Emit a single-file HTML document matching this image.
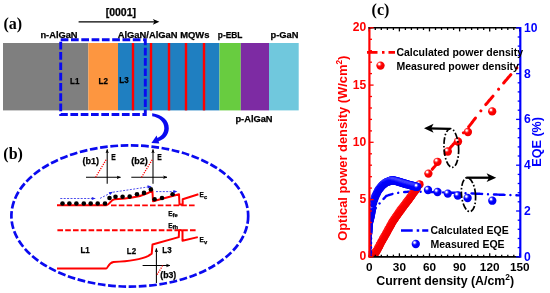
<!DOCTYPE html>
<html><head><meta charset="utf-8"><title>Figure</title>
<style>html,body{margin:0;padding:0;background:#fff}svg{display:block;filter:blur(0.45px)}text{font-family:"Liberation Sans",sans-serif;font-weight:bold}.ser{font-family:"Liberation Serif",serif}.cb{stroke:#000;stroke-width:0.25px}</style></head><body>
<svg width="550" height="293" viewBox="0 0 550 293">
<defs>
<radialGradient id="rb" cx="0.35" cy="0.32" r="0.65"><stop offset="0" stop-color="#fff"/><stop offset="0.12" stop-color="#fff"/><stop offset="0.3" stop-color="#ff5050"/><stop offset="0.5" stop-color="#ff0000"/><stop offset="1" stop-color="#f00000"/></radialGradient>
<radialGradient id="bb" cx="0.35" cy="0.32" r="0.65"><stop offset="0" stop-color="#fff"/><stop offset="0.12" stop-color="#fff"/><stop offset="0.3" stop-color="#5050ff"/><stop offset="0.5" stop-color="#0000ff"/><stop offset="1" stop-color="#0000f0"/></radialGradient>
<marker id="ah" viewBox="0 0 10 10" refX="9" refY="5" markerWidth="4.2" markerHeight="4.2" orient="auto-start-reverse"><path d="M0,1 L10,5 L0,9 L2.5,5 z" fill="#000"/></marker>
</defs>
<rect width="550" height="293" fill="#fff"/>
<rect x="3" y="43" width="85.3" height="67.4" fill="#7f7f7f"/>
<rect x="88.3" y="43" width="29.7" height="67.4" fill="#fd9640"/>
<rect x="118" y="43" width="101.5" height="67.4" fill="#1f7fc1"/>
<rect x="219.5" y="43" width="21.3" height="67.4" fill="#68cc40"/>
<rect x="240.8" y="43" width="28.2" height="67.4" fill="#7d2ba3"/>
<rect x="269" y="43" width="29.7" height="67.4" fill="#70c8dd"/>
<rect x="131.8" y="43" width="2.4" height="67.4" fill="#ff0000"/>
<rect x="149.8" y="43" width="2.4" height="67.4" fill="#ff0000"/>
<rect x="167.8" y="43" width="2.4" height="67.4" fill="#ff0000"/>
<rect x="184.8" y="43" width="2.4" height="67.4" fill="#ff0000"/>
<rect x="202.8" y="43" width="2.4" height="67.4" fill="#ff0000"/>
<rect x="60.7" y="39.7" width="84.6" height="74.8" fill="none" stroke="#0a0af0" stroke-width="2.9" stroke-dasharray="7.7 2.6"/>
<text x="3.5" y="29.2" font-size="16" fill="#000" class="ser" >(a)</text>
<text x="105.7" y="16" font-size="10.5" fill="#000"  class="cb">[0001]</text>
<line x1="78.6" y1="21.8" x2="155" y2="21.8" stroke="#000" stroke-width="1.35"/>
<path d="M159.4,21.8 L152.8,18.9 L154.5,21.8 L152.8,24.7 z" fill="#000"/>
<text x="40.4" y="37.6" font-size="9.3" fill="#000"  class="cb">n-AlGaN</text>
<text x="117.7" y="37.6" font-size="9.4" fill="#000"  class="cb">AlGaN/AlGaN MQWs</text>
<text x="217.8" y="37.6" font-size="9.3" fill="#000"  class="cb" textLength="24.6" lengthAdjust="spacingAndGlyphs">p-EBL</text>
<text x="270.5" y="37.6" font-size="9.3" fill="#000"  class="cb">p-GaN</text>
<text x="235.4" y="122.2" font-size="9.3" fill="#000"  class="cb">p-AlGaN</text>
<text x="70" y="83.8" font-size="9.6" fill="#000"  class="cb" textLength="9.4" lengthAdjust="spacingAndGlyphs">L1</text>
<text x="98.6" y="83.8" font-size="9.6" fill="#000"  class="cb" textLength="9.4" lengthAdjust="spacingAndGlyphs">L2</text>
<text x="119.3" y="83.2" font-size="9.6" fill="#000"  class="cb" textLength="9.4" lengthAdjust="spacingAndGlyphs">L3</text>
<path d="M152.2,113.2 C162,114.5 169,120 168.8,128.5 C168.6,135.5 163.5,139.8 158.6,141.2 L159.3,143.6 L151.4,143 L156.6,135.6 L157.4,138 C161,136.6 164.2,133.2 164.3,128.3 C164.4,121.5 159,117.5 152.2,116.2 z" fill="#0a0af0"/>
<text x="3.3" y="159.4" font-size="16" fill="#000" class="ser" >(b)</text>
<ellipse cx="129.8" cy="216" rx="118.4" ry="70.6" fill="none" stroke="#0a0af0" stroke-width="2.7" stroke-dasharray="7.7 2.6"/>
<line x1="107.2" y1="183.7" x2="107.2" y2="149.5" stroke="#000" stroke-width="1.05" marker-end="url(#ah)"/>
<line x1="86" y1="177.3" x2="120.5" y2="177.3" stroke="#000" stroke-width="1.05" marker-end="url(#ah)"/>
<line x1="153" y1="183.7" x2="153" y2="149.5" stroke="#000" stroke-width="1.05" marker-end="url(#ah)"/>
<line x1="131.3" y1="177.3" x2="167" y2="177.3" stroke="#000" stroke-width="1.05" marker-end="url(#ah)"/>
<line x1="156.4" y1="283" x2="156.4" y2="248.5" stroke="#000" stroke-width="1.05" marker-end="url(#ah)"/>
<line x1="142.6" y1="265.5" x2="170" y2="265.5" stroke="#000" stroke-width="1.05" marker-end="url(#ah)"/>
<line x1="95.6" y1="177.3" x2="106.3" y2="159.4" stroke="#ff0000" stroke-width="1.3" stroke-dasharray="1.2 1.2"/>
<line x1="141.5" y1="177.3" x2="152.5" y2="159.4" stroke="#ff0000" stroke-width="1.3" stroke-dasharray="1.2 1.2"/>
<line x1="162.7" y1="265.5" x2="156.4" y2="275.7" stroke="#ff0000" stroke-width="1.3" stroke-dasharray="1.2 1.2"/>
<text x="82.5" y="163.6" font-size="9" fill="#000"  class="cb">(b1)</text>
<text x="131.3" y="163.6" font-size="9" fill="#000"  class="cb">(b2)</text>
<text x="160.3" y="278.2" font-size="8.7" fill="#000"  class="cb">(b3)</text>
<text x="111.2" y="160.2" font-size="8.6" fill="#000"  class="cb" textLength="4.5" lengthAdjust="spacingAndGlyphs">E</text>
<text x="157.2" y="160.2" font-size="8.6" fill="#000"  class="cb" textLength="4.5" lengthAdjust="spacingAndGlyphs">E</text>
<path d="M57,205.3 L106.5,205.3 C109,205.3 111,199.6 114.6,199.2 L125,198.6 C135,197.6 146,195 152.4,190.7 L153,201.2 L179,194.3 L179.5,204.6 L182.7,204.6 L182.7,199.3 L198.4,194.3" fill="none" stroke="#ff0000" stroke-width="2" stroke-linejoin="round"/>
<line x1="111" y1="205.4" x2="196.5" y2="205.4" stroke="#ff0000" stroke-width="1.9" stroke-dasharray="5.6 2.2"/>
<line x1="57.4" y1="230.3" x2="197.2" y2="230.3" stroke="#ff0000" stroke-width="1.9" stroke-dasharray="5.6 2.2"/>
<path d="M57,268.4 L106.2,268.4 C108,268.4 108,263 113.5,262 C125,261.5 140,260 148.4,255.9 L151.7,253.7 L152.5,244.5 L178.8,237.1 L179,231 C180,229.5 181.5,229.5 182.5,231.5 L182.5,240.8 L197.8,237.1" fill="none" stroke="#ff0000" stroke-width="2" stroke-linejoin="round"/>
<circle cx="62.5" cy="203.5" r="2.3" fill="#000"/>
<circle cx="69.4" cy="203.5" r="2.3" fill="#000"/>
<circle cx="76.4" cy="203.5" r="2.3" fill="#000"/>
<circle cx="83.8" cy="203.5" r="2.3" fill="#000"/>
<circle cx="90.7" cy="203.5" r="2.3" fill="#000"/>
<circle cx="97.7" cy="203.5" r="2.3" fill="#000"/>
<circle cx="105" cy="203.5" r="2.3" fill="#000"/>
<circle cx="109.5" cy="198" r="2.3" fill="#000"/>
<circle cx="115.5" cy="196.8" r="2.3" fill="#000"/>
<circle cx="122.6" cy="196.8" r="2.3" fill="#000"/>
<circle cx="129.7" cy="196.6" r="2.3" fill="#000"/>
<circle cx="137" cy="194.3" r="2.3" fill="#000"/>
<circle cx="144" cy="192.9" r="2.3" fill="#000"/>
<circle cx="150.9" cy="189.4" r="2.3" fill="#000"/>
<circle cx="154.6" cy="199.3" r="2.3" fill="#000"/>
<circle cx="162" cy="198" r="2.3" fill="#000"/>
<circle cx="172.6" cy="194.3" r="2.3" fill="#000"/>
<path d="M60.3,198.5 L93,198.5" fill="none" stroke="#2020e8" stroke-width="0.8" stroke-dasharray="2 1.4"/>
<path d="M0,0 L-4,-1.6 L-4,1.6 z" fill="#2020e8" transform="translate(95.8,198.5) rotate(0)"/>
<path d="M100,198.4 L111,192.8" fill="none" stroke="#2020e8" stroke-width="0.8" stroke-dasharray="2 1.4"/>
<path d="M0,0 L-4,-1.6 L-4,1.6 z" fill="#2020e8" transform="translate(113,191.8) rotate(-27)"/>
<path d="M113,192.2 L149,186.8" fill="none" stroke="#2020e8" stroke-width="0.8" stroke-dasharray="2 1.4"/>
<path d="M0,0 L-4,-1.6 L-4,1.6 z" fill="#2020e8" transform="translate(151.6,186.4) rotate(-8)"/>
<path d="M156,191.6 L175,191.6" fill="none" stroke="#2020e8" stroke-width="0.8" stroke-dasharray="2 1.4"/>
<path d="M0,0 L-4,-1.6 L-4,1.6 z" fill="#2020e8" transform="translate(177.4,191.6) rotate(0)"/>
<text x="199.6" y="197.2" font-size="8" fill="#000" class="cb"><tspan textLength="4.3" lengthAdjust="spacingAndGlyphs">E</tspan><tspan font-size="5.8" dy="1.6">c</tspan></text>
<text x="168.2" y="215.6" font-size="8" fill="#000" class="cb"><tspan textLength="4.3" lengthAdjust="spacingAndGlyphs">E</tspan><tspan font-size="5.8" dy="1.6">fe</tspan></text>
<text x="168.2" y="227.8" font-size="8" fill="#000" class="cb"><tspan textLength="4.3" lengthAdjust="spacingAndGlyphs">E</tspan><tspan font-size="5.8" dy="1.6">fh</tspan></text>
<text x="199.6" y="242" font-size="8" fill="#000" class="cb"><tspan textLength="4.3" lengthAdjust="spacingAndGlyphs">E</tspan><tspan font-size="5.8" dy="1.6">v</tspan></text>
<text x="80.5" y="252.9" font-size="9.2" fill="#000"  class="cb" textLength="9.3" lengthAdjust="spacingAndGlyphs">L1</text>
<text x="126.8" y="253.6" font-size="9.2" fill="#000"  class="cb" textLength="9.3" lengthAdjust="spacingAndGlyphs">L2</text>
<text x="162.3" y="253.3" font-size="9.2" fill="#000"  class="cb" textLength="9.3" lengthAdjust="spacingAndGlyphs">L3</text>
<text x="371.6" y="14.8" font-size="16" fill="#000" class="ser" >(c)</text>
<path d="M369.8,256.0 L370.1,255.5 L370.5,254.9 L370.8,254.4 L371.1,253.9 L371.5,253.3 L371.8,252.8 L372.1,252.3 L372.5,251.7 L372.8,251.2 L373.1,250.7 L373.5,250.2 L373.8,249.6 L374.1,249.1 L374.5,248.6 L374.8,248.0 L375.1,247.5 L375.5,247.0 L375.8,246.4 L376.1,245.9 L376.5,245.4 L376.8,244.8 L377.1,244.3 L377.5,243.8 L377.8,243.2 L378.1,242.7 L378.4,242.2 L378.8,241.7 L379.1,241.1 L379.4,240.6 L379.8,240.1 L380.1,239.6 L380.4,239.1 L380.8,238.5 L381.1,238.0 L381.4,237.5 L381.8,237.0 L382.1,236.5 L382.4,236.0 L382.8,235.5 L383.1,235.0 L383.4,234.4 L383.8,233.9 L384.1,233.4 L384.4,232.9 L384.8,232.4 L385.1,231.9 L385.4,231.4 L385.8,230.9 L386.1,230.3 L386.4,229.8 L386.8,229.3 L387.1,228.8 L387.4,228.3 L387.8,227.8 L388.1,227.3 L388.4,226.8 L388.8,226.3 L389.1,225.7 L389.4,225.2 L389.8,224.8 L390.1,224.3 L390.4,223.8 L390.8,223.3 L391.1,222.9 L391.4,222.4 L391.8,221.9 L392.1,221.4 L392.4,221.0 L392.7,220.5 L393.1,220.0 L393.4,219.5 L393.7,219.1 L394.1,218.6 L394.4,218.1 L394.7,217.6 L395.1,217.2 L395.4,216.7 L395.7,216.2 L396.1,215.7 L396.4,215.3 L396.7,214.8 L397.1,214.3 L397.4,213.8 L397.7,213.4 L398.1,212.9 L398.4,212.4 L398.7,211.9 L399.1,211.5 L399.4,211.0 L399.9,210.3 L400.9,209.0 L401.9,207.7 L402.9,206.4 L403.9,205.1 L404.9,203.7 L405.9,202.4 L407.0,201.1 L408.0,199.8 L409.0,198.4 L410.0,197.1 L411.0,195.9 L412.0,194.6 L413.0,193.4 L414.0,192.1 L415.0,190.8 L416.0,189.6 L417.0,188.3 L418.0,187.0 L419.0,185.8 L420.1,184.5 L421.1,183.2 L422.1,182.0 L423.1,180.7 L424.1,179.4 L425.1,178.2 L426.1,176.9 L427.1,175.6 L428.1,174.4 L429.1,173.1 L430.1,171.9 L431.1,170.7 L432.1,169.5 L433.1,168.3 L434.2,167.1 L435.2,165.9 L436.2,164.6 L437.2,163.4 L438.2,162.2 L439.2,161.0 L440.2,159.8 L441.2,158.6 L442.2,157.4 L443.2,156.2 L444.2,155.0 L445.2,153.8 L446.2,152.6 L447.3,151.4 L448.3,150.2 L449.3,149.0 L450.3,147.8 L451.3,146.6 L452.3,145.5 L453.3,144.3 L454.3,143.2 L455.3,142.0 L456.3,140.9 L457.3,139.7 L458.3,138.6 L459.3,137.4 L460.4,136.3 L461.4,135.1 L462.4,134.0 L463.4,132.8 L464.4,131.7 L465.4,130.5 L466.4,129.4 L467.4,128.2 L468.4,127.1 L469.4,125.9 L470.4,124.6 L471.4,123.3 L472.4,122.0 L473.4,120.6 L474.5,119.3 L475.5,117.9 L476.5,116.6 L477.5,115.3 L478.5,114.0 L479.5,112.7 L480.5,111.4 L481.5,110.0 L482.5,108.7 L483.5,107.4 L484.5,106.1 L485.5,104.9 L486.5,103.7 L487.6,102.5 L488.6,101.3 L489.6,100.1 L490.6,99.0 L491.6,97.8 L492.6,96.6 L493.6,95.4 L494.6,94.2 L495.6,93.0 L496.6,91.7 L497.6,90.5 L498.6,89.2 L499.6,88.0 L500.7,86.7 L501.7,85.5 L502.7,84.2 L503.7,83.0 L504.7,81.8 L505.7,80.6 L506.7,79.5 L507.7,78.3 L508.7,77.1 L509.7,76.0 L510.7,74.8 L511.7,73.6 L512.7,72.5 L513.7,71.3 L514.8,70.2 L515.8,69.0 L516.8,67.9 L517.8,66.7 L518.8,65.6 L519.8,64.4" fill="none" stroke="#ff0000" stroke-width="3" stroke-linecap="round" stroke-dasharray="11 9 0.01 8" stroke-dashoffset="4.9"/>
<path d="M369.8,252.2 L370.1,244.6 L370.5,237.0 L370.8,229.4 L371.1,226.3 L371.5,223.3 L371.8,220.3 L372.1,218.0 L372.5,215.7 L372.8,213.4 L373.1,211.7 L373.5,211.3 L373.8,210.8 L374.1,210.3 L374.5,209.8 L374.8,209.3 L375.1,208.9 L375.5,208.4 L375.8,207.9 L376.1,207.5 L376.5,207.1 L376.8,206.7 L377.1,206.3 L377.5,205.9 L377.8,205.5 L378.1,205.1 L378.4,204.7 L378.8,204.3 L379.1,204.0 L379.4,203.6 L379.8,203.2 L380.1,202.8 L380.4,202.4 L380.8,202.0 L381.1,201.7 L381.4,201.3 L381.8,200.9 L382.1,200.6 L382.4,200.2 L382.8,199.8 L383.1,199.5 L383.4,199.1 L383.8,198.7 L384.1,198.4 L384.4,198.0 L384.8,197.6 L385.1,197.3 L385.4,196.9 L385.8,196.5 L386.1,196.2 L386.4,195.9 L386.8,195.8 L387.1,195.7 L387.4,195.5 L387.8,195.4 L388.1,195.3 L388.4,195.2 L388.8,195.1 L389.1,195.0 L389.4,194.9 L389.8,194.8 L390.1,194.7 L390.4,194.6 L390.8,194.5 L391.1,194.4 L391.4,194.3 L391.8,194.2 L392.1,194.1 L392.4,194.0 L392.7,193.9 L393.1,193.8 L393.4,193.7 L393.7,193.6 L394.1,193.5 L394.4,193.4 L394.7,193.3 L395.1,193.3 L395.4,193.2 L395.7,193.1 L396.1,193.1 L396.4,193.0 L396.7,193.0 L397.1,192.9 L397.4,192.9 L397.7,192.8 L398.1,192.8 L398.4,192.7 L398.7,192.7 L399.1,192.6 L399.4,192.5 L399.9,192.5 L400.9,192.3 L401.9,192.2 L402.9,192.1 L403.9,192.1 L404.9,192.0 L405.9,192.0 L407.0,191.9 L408.0,191.8 L409.0,191.8 L410.0,191.8 L411.0,191.8 L412.0,191.8 L413.0,191.8 L414.0,191.8 L415.0,191.8 L416.0,191.8 L417.0,191.8 L418.0,191.8 L419.0,191.8 L420.1,191.8 L421.1,191.8 L422.1,191.8 L423.1,191.8 L424.1,191.9 L425.1,191.9 L426.1,191.9 L427.1,191.9 L428.1,192.0 L429.1,192.0 L430.1,192.0 L431.1,192.0 L432.1,192.1 L433.1,192.1 L434.2,192.1 L435.2,192.1 L436.2,192.1 L437.2,192.2 L438.2,192.2 L439.2,192.2 L440.2,192.2 L441.2,192.3 L442.2,192.3 L443.2,192.4 L444.2,192.4 L445.2,192.4 L446.2,192.5 L447.3,192.5 L448.3,192.6 L449.3,192.6 L450.3,192.6 L451.3,192.7 L452.3,192.7 L453.3,192.7 L454.3,192.8 L455.3,192.8 L456.3,192.9 L457.3,192.9 L458.3,192.9 L459.3,193.0 L460.4,193.0 L461.4,193.1 L462.4,193.1 L463.4,193.1 L464.4,193.2 L465.4,193.2 L466.4,193.2 L467.4,193.3 L468.4,193.3 L469.4,193.4 L470.4,193.4 L471.4,193.4 L472.4,193.5 L473.4,193.5 L474.5,193.6 L475.5,193.6 L476.5,193.7 L477.5,193.7 L478.5,193.8 L479.5,193.8 L480.5,193.9 L481.5,193.9 L482.5,194.0 L483.5,194.0 L484.5,194.0 L485.5,194.1 L486.5,194.1 L487.6,194.2 L488.6,194.2 L489.6,194.3 L490.6,194.3 L491.6,194.4 L492.6,194.4 L493.6,194.4 L494.6,194.5 L495.6,194.5 L496.6,194.5 L497.6,194.6 L498.6,194.6 L499.6,194.7 L500.7,194.7 L501.7,194.7 L502.7,194.8 L503.7,194.8 L504.7,194.9 L505.7,194.9 L506.7,194.9 L507.7,195.0 L508.7,195.0 L509.7,195.0 L510.7,195.1 L511.7,195.1 L512.7,195.2 L513.7,195.2 L514.8,195.2 L515.8,195.3 L516.8,195.3 L517.8,195.4 L518.8,195.4 L519.8,195.4" fill="none" stroke="#0000ff" stroke-width="2.4" stroke-linecap="round" stroke-dasharray="10.6 5.9 0.01 5.99" stroke-dashoffset="10.3"/>
<clipPath id="pc"><rect x="369.4" y="27.8" width="150.9" height="229.1"/></clipPath><g clip-path="url(#pc)">
<circle cx="369.3" cy="261.4" r="4.15" fill="url(#rb)"/>
<circle cx="370.1" cy="260.2" r="4.15" fill="url(#rb)"/>
<circle cx="370.9" cy="259.1" r="4.15" fill="url(#rb)"/>
<circle cx="371.7" cy="257.9" r="4.15" fill="url(#rb)"/>
<circle cx="372.5" cy="256.8" r="4.15" fill="url(#rb)"/>
<circle cx="373.3" cy="255.7" r="4.15" fill="url(#rb)"/>
<circle cx="374.1" cy="254.5" r="4.15" fill="url(#rb)"/>
<circle cx="374.9" cy="253.4" r="4.15" fill="url(#rb)"/>
<circle cx="375.7" cy="252.3" r="4.15" fill="url(#rb)"/>
<circle cx="376.5" cy="251.2" r="4.15" fill="url(#rb)"/>
<circle cx="377.3" cy="249.7" r="4.15" fill="url(#rb)"/>
<circle cx="378.1" cy="248.2" r="4.15" fill="url(#rb)"/>
<circle cx="378.9" cy="246.7" r="4.15" fill="url(#rb)"/>
<circle cx="379.7" cy="245.2" r="4.15" fill="url(#rb)"/>
<circle cx="380.5" cy="243.6" r="4.15" fill="url(#rb)"/>
<circle cx="381.3" cy="242.1" r="4.15" fill="url(#rb)"/>
<circle cx="382.1" cy="240.6" r="4.15" fill="url(#rb)"/>
<circle cx="382.9" cy="239.2" r="4.15" fill="url(#rb)"/>
<circle cx="383.7" cy="237.7" r="4.15" fill="url(#rb)"/>
<circle cx="384.6" cy="236.3" r="4.15" fill="url(#rb)"/>
<circle cx="385.4" cy="234.9" r="4.15" fill="url(#rb)"/>
<circle cx="386.2" cy="233.4" r="4.15" fill="url(#rb)"/>
<circle cx="387.0" cy="232.0" r="4.15" fill="url(#rb)"/>
<circle cx="387.8" cy="230.5" r="4.15" fill="url(#rb)"/>
<circle cx="388.6" cy="229.1" r="4.15" fill="url(#rb)"/>
<circle cx="389.4" cy="227.6" r="4.15" fill="url(#rb)"/>
<circle cx="390.2" cy="226.2" r="4.15" fill="url(#rb)"/>
<circle cx="391.0" cy="224.7" r="4.15" fill="url(#rb)"/>
<circle cx="391.8" cy="223.3" r="4.15" fill="url(#rb)"/>
<circle cx="392.6" cy="221.8" r="4.15" fill="url(#rb)"/>
<circle cx="393.4" cy="220.6" r="4.15" fill="url(#rb)"/>
<circle cx="394.2" cy="219.4" r="4.15" fill="url(#rb)"/>
<circle cx="395.0" cy="218.3" r="4.15" fill="url(#rb)"/>
<circle cx="395.8" cy="217.1" r="4.15" fill="url(#rb)"/>
<circle cx="396.6" cy="215.9" r="4.15" fill="url(#rb)"/>
<circle cx="397.4" cy="214.8" r="4.15" fill="url(#rb)"/>
<circle cx="398.2" cy="213.6" r="4.15" fill="url(#rb)"/>
<circle cx="399.0" cy="212.5" r="4.15" fill="url(#rb)"/>
<circle cx="399.8" cy="211.3" r="4.15" fill="url(#rb)"/>
<circle cx="400.6" cy="210.2" r="4.15" fill="url(#rb)"/>
<circle cx="401.4" cy="209.2" r="4.15" fill="url(#rb)"/>
<circle cx="402.2" cy="208.1" r="4.15" fill="url(#rb)"/>
<circle cx="403.0" cy="207.1" r="4.15" fill="url(#rb)"/>
<circle cx="403.8" cy="206.0" r="4.15" fill="url(#rb)"/>
<circle cx="404.6" cy="204.9" r="4.15" fill="url(#rb)"/>
<circle cx="405.4" cy="203.9" r="4.15" fill="url(#rb)"/>
<circle cx="406.2" cy="202.8" r="4.15" fill="url(#rb)"/>
<circle cx="407.0" cy="201.8" r="4.15" fill="url(#rb)"/>
<circle cx="407.8" cy="200.7" r="4.15" fill="url(#rb)"/>
<circle cx="408.6" cy="199.7" r="4.15" fill="url(#rb)"/>
<circle cx="409.4" cy="198.6" r="4.15" fill="url(#rb)"/>
<circle cx="410.2" cy="197.4" r="4.15" fill="url(#rb)"/>
<circle cx="411.0" cy="196.3" r="4.15" fill="url(#rb)"/>
<circle cx="411.8" cy="195.2" r="4.15" fill="url(#rb)"/>
<circle cx="412.6" cy="194.1" r="4.15" fill="url(#rb)"/>
<circle cx="413.4" cy="192.9" r="4.15" fill="url(#rb)"/>
<circle cx="414.2" cy="191.8" r="4.15" fill="url(#rb)"/>
<circle cx="415.1" cy="190.7" r="4.15" fill="url(#rb)"/>
<circle cx="415.9" cy="189.5" r="4.15" fill="url(#rb)"/>
<circle cx="416.7" cy="188.4" r="4.15" fill="url(#rb)"/>
<circle cx="419.5" cy="184.4" r="4.15" fill="url(#rb)"/>
<circle cx="428.4" cy="173.6" r="4.15" fill="url(#rb)"/>
<circle cx="437.5" cy="161.8" r="4.15" fill="url(#rb)"/>
<circle cx="447.8" cy="151.5" r="4.15" fill="url(#rb)"/>
<circle cx="458.0" cy="141.5" r="4.15" fill="url(#rb)"/>
<circle cx="467.9" cy="132.0" r="4.15" fill="url(#rb)"/>
<circle cx="492.2" cy="111.4" r="4.15" fill="url(#rb)"/>
<circle cx="368.0" cy="256.8" r="4.15" fill="url(#bb)"/>
<circle cx="368.0" cy="252.2" r="4.15" fill="url(#bb)"/>
<circle cx="368.0" cy="247.6" r="4.15" fill="url(#bb)"/>
<circle cx="368.1" cy="243.1" r="4.15" fill="url(#bb)"/>
<circle cx="368.1" cy="238.5" r="4.15" fill="url(#bb)"/>
<circle cx="368.1" cy="233.9" r="4.15" fill="url(#bb)"/>
<circle cx="368.1" cy="233.4" r="4.15" fill="url(#bb)"/>
<circle cx="368.1" cy="233.0" r="4.15" fill="url(#bb)"/>
<circle cx="368.2" cy="232.5" r="4.15" fill="url(#bb)"/>
<circle cx="368.2" cy="232.1" r="4.15" fill="url(#bb)"/>
<circle cx="368.2" cy="231.6" r="4.15" fill="url(#bb)"/>
<circle cx="368.2" cy="231.2" r="4.15" fill="url(#bb)"/>
<circle cx="368.2" cy="230.7" r="4.15" fill="url(#bb)"/>
<circle cx="368.3" cy="230.2" r="4.15" fill="url(#bb)"/>
<circle cx="368.3" cy="229.8" r="4.15" fill="url(#bb)"/>
<circle cx="368.3" cy="229.3" r="4.15" fill="url(#bb)"/>
<circle cx="368.3" cy="228.9" r="4.15" fill="url(#bb)"/>
<circle cx="368.3" cy="228.4" r="4.15" fill="url(#bb)"/>
<circle cx="368.4" cy="227.9" r="4.15" fill="url(#bb)"/>
<circle cx="368.4" cy="227.5" r="4.15" fill="url(#bb)"/>
<circle cx="368.4" cy="227.0" r="4.15" fill="url(#bb)"/>
<circle cx="368.4" cy="226.6" r="4.15" fill="url(#bb)"/>
<circle cx="368.4" cy="226.1" r="4.15" fill="url(#bb)"/>
<circle cx="368.5" cy="225.7" r="4.15" fill="url(#bb)"/>
<circle cx="368.5" cy="225.2" r="4.15" fill="url(#bb)"/>
<circle cx="368.5" cy="224.7" r="4.15" fill="url(#bb)"/>
<circle cx="368.7" cy="224.0" r="4.15" fill="url(#bb)"/>
<circle cx="368.9" cy="223.2" r="4.15" fill="url(#bb)"/>
<circle cx="369.1" cy="222.4" r="4.15" fill="url(#bb)"/>
<circle cx="369.3" cy="221.6" r="4.15" fill="url(#bb)"/>
<circle cx="369.5" cy="220.8" r="4.15" fill="url(#bb)"/>
<circle cx="369.7" cy="220.0" r="4.15" fill="url(#bb)"/>
<circle cx="369.9" cy="219.2" r="4.15" fill="url(#bb)"/>
<circle cx="370.1" cy="218.5" r="4.15" fill="url(#bb)"/>
<circle cx="370.3" cy="217.7" r="4.15" fill="url(#bb)"/>
<circle cx="370.5" cy="216.9" r="4.15" fill="url(#bb)"/>
<circle cx="370.7" cy="216.0" r="4.15" fill="url(#bb)"/>
<circle cx="370.9" cy="215.0" r="4.15" fill="url(#bb)"/>
<circle cx="371.1" cy="213.9" r="4.15" fill="url(#bb)"/>
<circle cx="371.3" cy="212.9" r="4.15" fill="url(#bb)"/>
<circle cx="371.5" cy="211.9" r="4.15" fill="url(#bb)"/>
<circle cx="371.7" cy="210.8" r="4.15" fill="url(#bb)"/>
<circle cx="371.9" cy="209.8" r="4.15" fill="url(#bb)"/>
<circle cx="372.1" cy="208.8" r="4.15" fill="url(#bb)"/>
<circle cx="372.3" cy="207.7" r="4.15" fill="url(#bb)"/>
<circle cx="373.1" cy="203.2" r="4.15" fill="url(#bb)"/>
<circle cx="373.9" cy="200.4" r="4.15" fill="url(#bb)"/>
<circle cx="374.7" cy="198.2" r="4.15" fill="url(#bb)"/>
<circle cx="375.5" cy="196.0" r="4.15" fill="url(#bb)"/>
<circle cx="376.3" cy="194.4" r="4.15" fill="url(#bb)"/>
<circle cx="377.1" cy="192.8" r="4.15" fill="url(#bb)"/>
<circle cx="377.9" cy="191.1" r="4.15" fill="url(#bb)"/>
<circle cx="378.7" cy="189.7" r="4.15" fill="url(#bb)"/>
<circle cx="379.5" cy="188.7" r="4.15" fill="url(#bb)"/>
<circle cx="380.3" cy="187.7" r="4.15" fill="url(#bb)"/>
<circle cx="381.1" cy="186.7" r="4.15" fill="url(#bb)"/>
<circle cx="381.9" cy="185.7" r="4.15" fill="url(#bb)"/>
<circle cx="382.7" cy="185.0" r="4.15" fill="url(#bb)"/>
<circle cx="383.5" cy="184.3" r="4.15" fill="url(#bb)"/>
<circle cx="384.3" cy="183.7" r="4.15" fill="url(#bb)"/>
<circle cx="385.2" cy="183.0" r="4.15" fill="url(#bb)"/>
<circle cx="386.0" cy="182.4" r="4.15" fill="url(#bb)"/>
<circle cx="386.8" cy="182.1" r="4.15" fill="url(#bb)"/>
<circle cx="387.6" cy="181.8" r="4.15" fill="url(#bb)"/>
<circle cx="388.4" cy="181.5" r="4.15" fill="url(#bb)"/>
<circle cx="389.2" cy="181.2" r="4.15" fill="url(#bb)"/>
<circle cx="390.0" cy="180.8" r="4.15" fill="url(#bb)"/>
<circle cx="390.8" cy="180.5" r="4.15" fill="url(#bb)"/>
<circle cx="391.6" cy="180.3" r="4.15" fill="url(#bb)"/>
<circle cx="392.4" cy="180.4" r="4.15" fill="url(#bb)"/>
<circle cx="393.2" cy="180.5" r="4.15" fill="url(#bb)"/>
<circle cx="394.0" cy="180.5" r="4.15" fill="url(#bb)"/>
<circle cx="394.8" cy="180.7" r="4.15" fill="url(#bb)"/>
<circle cx="395.6" cy="180.9" r="4.15" fill="url(#bb)"/>
<circle cx="396.4" cy="181.1" r="4.15" fill="url(#bb)"/>
<circle cx="397.2" cy="181.3" r="4.15" fill="url(#bb)"/>
<circle cx="398.0" cy="181.5" r="4.15" fill="url(#bb)"/>
<circle cx="398.8" cy="181.8" r="4.15" fill="url(#bb)"/>
<circle cx="399.6" cy="182.0" r="4.15" fill="url(#bb)"/>
<circle cx="400.4" cy="182.2" r="4.15" fill="url(#bb)"/>
<circle cx="401.2" cy="182.5" r="4.15" fill="url(#bb)"/>
<circle cx="402.0" cy="182.8" r="4.15" fill="url(#bb)"/>
<circle cx="402.8" cy="183.0" r="4.15" fill="url(#bb)"/>
<circle cx="403.6" cy="183.3" r="4.15" fill="url(#bb)"/>
<circle cx="404.4" cy="183.5" r="4.15" fill="url(#bb)"/>
<circle cx="405.2" cy="183.7" r="4.15" fill="url(#bb)"/>
<circle cx="406.0" cy="184.0" r="4.15" fill="url(#bb)"/>
<circle cx="406.8" cy="184.2" r="4.15" fill="url(#bb)"/>
<circle cx="407.6" cy="184.4" r="4.15" fill="url(#bb)"/>
<circle cx="408.4" cy="184.6" r="4.15" fill="url(#bb)"/>
<circle cx="409.2" cy="184.8" r="4.15" fill="url(#bb)"/>
<circle cx="410.0" cy="185.1" r="4.15" fill="url(#bb)"/>
<circle cx="410.8" cy="185.3" r="4.15" fill="url(#bb)"/>
<circle cx="411.6" cy="185.5" r="4.15" fill="url(#bb)"/>
<circle cx="412.4" cy="185.7" r="4.15" fill="url(#bb)"/>
<circle cx="413.2" cy="185.9" r="4.15" fill="url(#bb)"/>
<circle cx="414.0" cy="186.2" r="4.15" fill="url(#bb)"/>
<circle cx="414.8" cy="186.3" r="4.15" fill="url(#bb)"/>
<circle cx="415.7" cy="186.5" r="4.15" fill="url(#bb)"/>
<circle cx="416.5" cy="186.7" r="4.15" fill="url(#bb)"/>
<circle cx="417.3" cy="186.8" r="4.15" fill="url(#bb)"/>
<circle cx="428.0" cy="190.0" r="4.15" fill="url(#bb)"/>
<circle cx="437.5" cy="192.0" r="4.15" fill="url(#bb)"/>
<circle cx="447.8" cy="193.6" r="4.15" fill="url(#bb)"/>
<circle cx="457.8" cy="195.5" r="4.15" fill="url(#bb)"/>
<circle cx="467.6" cy="198.0" r="4.15" fill="url(#bb)"/>
<circle cx="492.3" cy="200.7" r="4.15" fill="url(#bb)"/>
</g>
<line x1="369.4" y1="27.8" x2="520.3" y2="27.8" stroke="#000" stroke-width="1.6"/>
<line x1="369.4" y1="256.9" x2="520.3" y2="256.9" stroke="#000" stroke-width="1.6"/>
<line x1="369.3" y1="256.9" x2="369.3" y2="253.29999999999998" stroke="#000" stroke-width="1.3"/>
<line x1="369.3" y1="27.8" x2="369.3" y2="31.400000000000002" stroke="#000" stroke-width="1.3"/>
<line x1="375.3" y1="256.9" x2="375.3" y2="254.7" stroke="#000" stroke-width="1.3"/>
<line x1="375.3" y1="27.8" x2="375.3" y2="30.0" stroke="#000" stroke-width="1.3"/>
<line x1="381.3" y1="256.9" x2="381.3" y2="254.7" stroke="#000" stroke-width="1.3"/>
<line x1="381.3" y1="27.8" x2="381.3" y2="30.0" stroke="#000" stroke-width="1.3"/>
<line x1="387.4" y1="256.9" x2="387.4" y2="254.7" stroke="#000" stroke-width="1.3"/>
<line x1="387.4" y1="27.8" x2="387.4" y2="30.0" stroke="#000" stroke-width="1.3"/>
<line x1="393.4" y1="256.9" x2="393.4" y2="254.7" stroke="#000" stroke-width="1.3"/>
<line x1="393.4" y1="27.8" x2="393.4" y2="30.0" stroke="#000" stroke-width="1.3"/>
<line x1="399.4" y1="256.9" x2="399.4" y2="253.29999999999998" stroke="#000" stroke-width="1.3"/>
<line x1="399.4" y1="27.8" x2="399.4" y2="31.400000000000002" stroke="#000" stroke-width="1.3"/>
<line x1="405.4" y1="256.9" x2="405.4" y2="254.7" stroke="#000" stroke-width="1.3"/>
<line x1="405.4" y1="27.8" x2="405.4" y2="30.0" stroke="#000" stroke-width="1.3"/>
<line x1="411.4" y1="256.9" x2="411.4" y2="254.7" stroke="#000" stroke-width="1.3"/>
<line x1="411.4" y1="27.8" x2="411.4" y2="30.0" stroke="#000" stroke-width="1.3"/>
<line x1="417.5" y1="256.9" x2="417.5" y2="254.7" stroke="#000" stroke-width="1.3"/>
<line x1="417.5" y1="27.8" x2="417.5" y2="30.0" stroke="#000" stroke-width="1.3"/>
<line x1="423.5" y1="256.9" x2="423.5" y2="254.7" stroke="#000" stroke-width="1.3"/>
<line x1="423.5" y1="27.8" x2="423.5" y2="30.0" stroke="#000" stroke-width="1.3"/>
<line x1="429.5" y1="256.9" x2="429.5" y2="253.29999999999998" stroke="#000" stroke-width="1.3"/>
<line x1="429.5" y1="27.8" x2="429.5" y2="31.400000000000002" stroke="#000" stroke-width="1.3"/>
<line x1="435.5" y1="256.9" x2="435.5" y2="254.7" stroke="#000" stroke-width="1.3"/>
<line x1="435.5" y1="27.8" x2="435.5" y2="30.0" stroke="#000" stroke-width="1.3"/>
<line x1="441.5" y1="256.9" x2="441.5" y2="254.7" stroke="#000" stroke-width="1.3"/>
<line x1="441.5" y1="27.8" x2="441.5" y2="30.0" stroke="#000" stroke-width="1.3"/>
<line x1="447.6" y1="256.9" x2="447.6" y2="254.7" stroke="#000" stroke-width="1.3"/>
<line x1="447.6" y1="27.8" x2="447.6" y2="30.0" stroke="#000" stroke-width="1.3"/>
<line x1="453.6" y1="256.9" x2="453.6" y2="254.7" stroke="#000" stroke-width="1.3"/>
<line x1="453.6" y1="27.8" x2="453.6" y2="30.0" stroke="#000" stroke-width="1.3"/>
<line x1="459.6" y1="256.9" x2="459.6" y2="253.29999999999998" stroke="#000" stroke-width="1.3"/>
<line x1="459.6" y1="27.8" x2="459.6" y2="31.400000000000002" stroke="#000" stroke-width="1.3"/>
<line x1="465.6" y1="256.9" x2="465.6" y2="254.7" stroke="#000" stroke-width="1.3"/>
<line x1="465.6" y1="27.8" x2="465.6" y2="30.0" stroke="#000" stroke-width="1.3"/>
<line x1="471.6" y1="256.9" x2="471.6" y2="254.7" stroke="#000" stroke-width="1.3"/>
<line x1="471.6" y1="27.8" x2="471.6" y2="30.0" stroke="#000" stroke-width="1.3"/>
<line x1="477.7" y1="256.9" x2="477.7" y2="254.7" stroke="#000" stroke-width="1.3"/>
<line x1="477.7" y1="27.8" x2="477.7" y2="30.0" stroke="#000" stroke-width="1.3"/>
<line x1="483.7" y1="256.9" x2="483.7" y2="254.7" stroke="#000" stroke-width="1.3"/>
<line x1="483.7" y1="27.8" x2="483.7" y2="30.0" stroke="#000" stroke-width="1.3"/>
<line x1="489.7" y1="256.9" x2="489.7" y2="253.29999999999998" stroke="#000" stroke-width="1.3"/>
<line x1="489.7" y1="27.8" x2="489.7" y2="31.400000000000002" stroke="#000" stroke-width="1.3"/>
<line x1="495.7" y1="256.9" x2="495.7" y2="254.7" stroke="#000" stroke-width="1.3"/>
<line x1="495.7" y1="27.8" x2="495.7" y2="30.0" stroke="#000" stroke-width="1.3"/>
<line x1="501.7" y1="256.9" x2="501.7" y2="254.7" stroke="#000" stroke-width="1.3"/>
<line x1="501.7" y1="27.8" x2="501.7" y2="30.0" stroke="#000" stroke-width="1.3"/>
<line x1="507.8" y1="256.9" x2="507.8" y2="254.7" stroke="#000" stroke-width="1.3"/>
<line x1="507.8" y1="27.8" x2="507.8" y2="30.0" stroke="#000" stroke-width="1.3"/>
<line x1="513.8" y1="256.9" x2="513.8" y2="254.7" stroke="#000" stroke-width="1.3"/>
<line x1="513.8" y1="27.8" x2="513.8" y2="30.0" stroke="#000" stroke-width="1.3"/>
<line x1="519.8" y1="256.9" x2="519.8" y2="253.29999999999998" stroke="#000" stroke-width="1.3"/>
<line x1="519.8" y1="27.8" x2="519.8" y2="31.400000000000002" stroke="#000" stroke-width="1.3"/>
<line x1="369.4" y1="28.6" x2="369.4" y2="257.7" stroke="#ff0000" stroke-width="2.2"/>
<line x1="368.29999999999995" y1="27.8" x2="371.4" y2="27.8" stroke="#000" stroke-width="1.6"/>
<line x1="520.3" y1="27.0" x2="520.3" y2="257.7" stroke="#0000ff" stroke-width="2.2"/>
<line x1="369.4" y1="256.8" x2="373.59999999999997" y2="256.8" stroke="#ff0000" stroke-width="1.3"/>
<line x1="369.4" y1="245.4" x2="372.0" y2="245.4" stroke="#ff0000" stroke-width="1.3"/>
<line x1="369.4" y1="233.9" x2="372.0" y2="233.9" stroke="#ff0000" stroke-width="1.3"/>
<line x1="369.4" y1="222.5" x2="372.0" y2="222.5" stroke="#ff0000" stroke-width="1.3"/>
<line x1="369.4" y1="211.0" x2="372.0" y2="211.0" stroke="#ff0000" stroke-width="1.3"/>
<line x1="369.4" y1="199.6" x2="373.59999999999997" y2="199.6" stroke="#ff0000" stroke-width="1.3"/>
<line x1="369.4" y1="188.1" x2="372.0" y2="188.1" stroke="#ff0000" stroke-width="1.3"/>
<line x1="369.4" y1="176.7" x2="372.0" y2="176.7" stroke="#ff0000" stroke-width="1.3"/>
<line x1="369.4" y1="165.2" x2="372.0" y2="165.2" stroke="#ff0000" stroke-width="1.3"/>
<line x1="369.4" y1="153.8" x2="372.0" y2="153.8" stroke="#ff0000" stroke-width="1.3"/>
<line x1="369.4" y1="142.3" x2="373.59999999999997" y2="142.3" stroke="#ff0000" stroke-width="1.3"/>
<line x1="369.4" y1="130.9" x2="372.0" y2="130.9" stroke="#ff0000" stroke-width="1.3"/>
<line x1="369.4" y1="119.4" x2="372.0" y2="119.4" stroke="#ff0000" stroke-width="1.3"/>
<line x1="369.4" y1="108.0" x2="372.0" y2="108.0" stroke="#ff0000" stroke-width="1.3"/>
<line x1="369.4" y1="96.5" x2="372.0" y2="96.5" stroke="#ff0000" stroke-width="1.3"/>
<line x1="369.4" y1="85.1" x2="373.59999999999997" y2="85.1" stroke="#ff0000" stroke-width="1.3"/>
<line x1="369.4" y1="73.6" x2="372.0" y2="73.6" stroke="#ff0000" stroke-width="1.3"/>
<line x1="369.4" y1="62.2" x2="372.0" y2="62.2" stroke="#ff0000" stroke-width="1.3"/>
<line x1="369.4" y1="50.7" x2="372.0" y2="50.7" stroke="#ff0000" stroke-width="1.3"/>
<line x1="369.4" y1="39.3" x2="372.0" y2="39.3" stroke="#ff0000" stroke-width="1.3"/>
<line x1="369.4" y1="27.8" x2="373.59999999999997" y2="27.8" stroke="#ff0000" stroke-width="1.3"/>
<line x1="520.3" y1="256.8" x2="516.0999999999999" y2="256.8" stroke="#0000ff" stroke-width="1.3"/>
<line x1="520.3" y1="247.6" x2="517.6999999999999" y2="247.6" stroke="#0000ff" stroke-width="1.3"/>
<line x1="520.3" y1="238.5" x2="517.6999999999999" y2="238.5" stroke="#0000ff" stroke-width="1.3"/>
<line x1="520.3" y1="229.3" x2="517.6999999999999" y2="229.3" stroke="#0000ff" stroke-width="1.3"/>
<line x1="520.3" y1="220.2" x2="517.6999999999999" y2="220.2" stroke="#0000ff" stroke-width="1.3"/>
<line x1="520.3" y1="211.0" x2="516.0999999999999" y2="211.0" stroke="#0000ff" stroke-width="1.3"/>
<line x1="520.3" y1="201.8" x2="517.6999999999999" y2="201.8" stroke="#0000ff" stroke-width="1.3"/>
<line x1="520.3" y1="192.7" x2="517.6999999999999" y2="192.7" stroke="#0000ff" stroke-width="1.3"/>
<line x1="520.3" y1="183.5" x2="517.6999999999999" y2="183.5" stroke="#0000ff" stroke-width="1.3"/>
<line x1="520.3" y1="174.4" x2="517.6999999999999" y2="174.4" stroke="#0000ff" stroke-width="1.3"/>
<line x1="520.3" y1="165.2" x2="516.0999999999999" y2="165.2" stroke="#0000ff" stroke-width="1.3"/>
<line x1="520.3" y1="156.0" x2="517.6999999999999" y2="156.0" stroke="#0000ff" stroke-width="1.3"/>
<line x1="520.3" y1="146.9" x2="517.6999999999999" y2="146.9" stroke="#0000ff" stroke-width="1.3"/>
<line x1="520.3" y1="137.7" x2="517.6999999999999" y2="137.7" stroke="#0000ff" stroke-width="1.3"/>
<line x1="520.3" y1="128.6" x2="517.6999999999999" y2="128.6" stroke="#0000ff" stroke-width="1.3"/>
<line x1="520.3" y1="119.4" x2="516.0999999999999" y2="119.4" stroke="#0000ff" stroke-width="1.3"/>
<line x1="520.3" y1="110.2" x2="517.6999999999999" y2="110.2" stroke="#0000ff" stroke-width="1.3"/>
<line x1="520.3" y1="101.1" x2="517.6999999999999" y2="101.1" stroke="#0000ff" stroke-width="1.3"/>
<line x1="520.3" y1="91.9" x2="517.6999999999999" y2="91.9" stroke="#0000ff" stroke-width="1.3"/>
<line x1="520.3" y1="82.8" x2="517.6999999999999" y2="82.8" stroke="#0000ff" stroke-width="1.3"/>
<line x1="520.3" y1="73.6" x2="516.0999999999999" y2="73.6" stroke="#0000ff" stroke-width="1.3"/>
<line x1="520.3" y1="64.4" x2="517.6999999999999" y2="64.4" stroke="#0000ff" stroke-width="1.3"/>
<line x1="520.3" y1="55.3" x2="517.6999999999999" y2="55.3" stroke="#0000ff" stroke-width="1.3"/>
<line x1="520.3" y1="46.1" x2="517.6999999999999" y2="46.1" stroke="#0000ff" stroke-width="1.3"/>
<line x1="520.3" y1="37.0" x2="517.6999999999999" y2="37.0" stroke="#0000ff" stroke-width="1.3"/>
<line x1="520.3" y1="27.8" x2="516.0999999999999" y2="27.8" stroke="#0000ff" stroke-width="1.3"/>
<text x="366.2" y="260.4" font-size="12.1" fill="#ff0000" text-anchor="end">0</text>
<text x="366.2" y="203.2" font-size="12.1" fill="#ff0000" text-anchor="end">5</text>
<text x="366.2" y="145.9" font-size="12.1" fill="#ff0000" text-anchor="end">10</text>
<text x="366.2" y="88.7" font-size="12.1" fill="#ff0000" text-anchor="end">15</text>
<text x="366.2" y="31.4" font-size="12.1" fill="#ff0000" text-anchor="end">20</text>
<text x="524" y="260.8" font-size="12.1" fill="#0000ff">0</text>
<text x="524" y="215.0" font-size="12.1" fill="#0000ff">2</text>
<text x="524" y="169.2" font-size="12.1" fill="#0000ff">4</text>
<text x="524" y="123.4" font-size="12.1" fill="#0000ff">6</text>
<text x="524" y="77.6" font-size="12.1" fill="#0000ff">8</text>
<text x="524" y="31.8" font-size="12.1" fill="#0000ff">10</text>
<text x="369.3" y="270.8" font-size="11.8" fill="#000" text-anchor="middle">0</text>
<text x="399.4" y="270.8" font-size="11.8" fill="#000" text-anchor="middle">30</text>
<text x="429.5" y="270.8" font-size="11.8" fill="#000" text-anchor="middle">60</text>
<text x="459.6" y="270.8" font-size="11.8" fill="#000" text-anchor="middle">90</text>
<text x="489.7" y="270.8" font-size="11.8" fill="#000" text-anchor="middle">120</text>
<text x="519.8" y="270.8" font-size="11.8" fill="#000" text-anchor="middle">150</text>
<text x="376.3" y="285.4" font-size="12.35" fill="#000">Current density (A/cm<tspan font-size="8.4" dy="-5.6">2</tspan><tspan dy="5.6">)</tspan></text>
<text transform="translate(347.1,240.8) rotate(-90)" font-size="12.9" fill="#ff0000">Optical power density (W/cm<tspan font-size="8.4" dy="-5.6">2</tspan><tspan dy="5.6">)</tspan></text>
<text transform="translate(541.2,166.7) rotate(-90)" font-size="12.6" fill="#0000ff">EQE (%)</text>
<line x1="367" y1="52.4" x2="395" y2="52.4" stroke="#ff0000" stroke-width="2.8" stroke-dasharray="10.5 4.5 2.5 4 7 0"/>
<circle cx="380.5" cy="65.6" r="4.15" fill="url(#rb)"/>
<text x="396.4" y="56.2" font-size="10.5" fill="#000"  >Calculated power density</text>
<text x="396.4" y="69.8" font-size="10.5" fill="#000"  >Measured power density</text>
<line x1="401" y1="230.5" x2="428.3" y2="230.5" stroke="#0000ff" stroke-width="2.4" stroke-dasharray="11.7 4 2.5 3 7 0"/>
<circle cx="415.8" cy="244" r="4.15" fill="url(#bb)"/>
<text x="430.5" y="234.4" font-size="10.5" fill="#000"  >Calculated EQE</text>
<text x="430.5" y="247.9" font-size="10.5" fill="#000"  >Measured EQE</text>
<line x1="450" y1="128.9" x2="428" y2="128.3" stroke="#000" stroke-width="2.3"/>
<path d="M424,128.2 L433.6,123.8 L431.2,128.3 L433.6,132.8 z" fill="#000"/>
<ellipse cx="451.3" cy="148" rx="7.3" ry="19.4" fill="none" stroke="#000" stroke-width="1.7" stroke-dasharray="6.5 2 1.6 2" transform="rotate(-3 451.3 148)"/>
<line x1="466.5" y1="177.7" x2="492" y2="177.7" stroke="#000" stroke-width="2.3"/>
<path d="M496.2,177.7 L486.6,173.3 L489,177.7 L486.6,182.1 z" fill="#000"/>
<ellipse cx="468.5" cy="194.6" rx="7" ry="17" fill="none" stroke="#000" stroke-width="1.7" stroke-dasharray="6.5 2 1.6 2" transform="rotate(-5 468.5 194.6)"/>
</svg></body></html>
